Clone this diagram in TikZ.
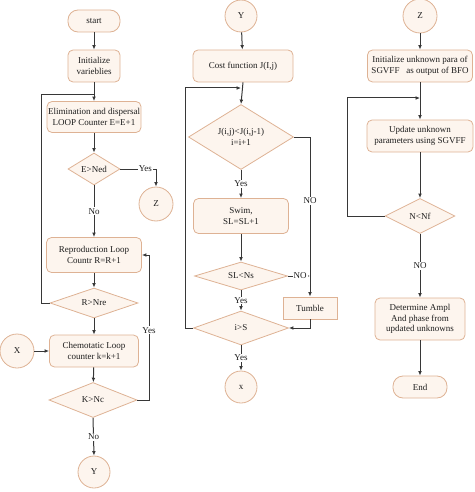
\documentclass[tikz,border=0pt]{standalone}
\usepackage{fontspec}
\setmainfont{Liberation Serif}
\usetikzlibrary{shapes.geometric,arrows.meta}
\definecolor{bord}{RGB}{222,178,148}
\definecolor{fillc}{RGB}{253,245,238}
\definecolor{linec}{RGB}{55,55,55}
\definecolor{txtc}{RGB}{30,30,30}
\begin{document}
\begin{tikzpicture}[x=1pt,y=-1pt,
  font=\fontsize{9}{10.5}\selectfont, text=txtc,
  base/.style={draw=bord, fill=fillc, line width=0.8pt, align=center, inner sep=1pt},
  box/.style={base, rounded corners=5pt},
  term/.style={base, rounded corners=10pt},
  plainbox/.style={base},
  dia/.style={base, shape=diamond, inner sep=0pt},
  circ/.style={base, shape=circle, inner sep=0pt},
  line/.style={draw=linec, line width=1pt},
  arr/.style={line, -{Latex[length=4.5pt,width=3.8pt]}},
  lab/.style={fill=white, inner sep=1pt, text=txtc}]
\useasboundingbox (0,0) rectangle (474,492);

% column 1
\node[term, minimum width=52pt, minimum height=22pt] (start) at (94,21) {start};
\node[box, minimum width=52pt, minimum height=32pt] (init) at (94,66) {Initialize\\varieblies};
\node[box, minimum width=93pt, minimum height=31pt] (elim) at (94,117) {Elimination and dispersal\\LOOP Counter E=E+1};
\node[dia, aspect=1.6, minimum width=52pt, minimum height=32pt] (ened) at (94,169) {E>Ned};
\node[circ, minimum size=34pt] (z1) at (156,204) {Z};
\node[box, minimum width=95pt, minimum height=35pt] (repro) at (94,255) {Reproduction Loop\\Countr R=R+1};
\node[dia, aspect=2.9, minimum width=88pt, minimum height=30pt] (rnre) at (94,303) {R>Nre};
\node[box, minimum width=89pt, minimum height=32pt] (chemo) at (94,351) {Chemotatic Loop\\counter k=k+1};
\node[circ, minimum size=34pt] (xa) at (17,351) {X};
\node[dia, aspect=2.5, minimum width=88pt, minimum height=35pt] (knc) at (93,400) {K>Nc};
\node[circ, minimum size=32pt] (ya) at (94,472) {Y};

\coordinate (l1) at (41,95);
\draw[arr] (start) -- (init);
\draw[arr] (init) -- (elim);
\draw[line] (rnre.west) -| (l1) -- (l1 -| elim.north);
\draw[arr] (elim) -- (ened);
\draw[arr] (ened.east) -| node[lab, pos=0.35] {Yes} (z1.north);
\draw[arr] (ened.south) -- node[lab] {No} (repro.north);
\draw[arr] (repro) -- (rnre);
\draw[arr] (rnre.south) -- (chemo.north);
\draw[arr] (xa) -- (chemo);
\draw[arr] (chemo) -- (knc);
\draw[arr] (knc.south) -- node[lab] {No} (ya.north);
\coordinate (r1) at (149,400);
\draw[arr] (knc.east) -- (r1) -- node[lab, pos=0.48] {Yes} (r1 |- repro.east) -- (repro.east);

% column 2
\node[circ, minimum size=32pt] (yb) at (241,16) {Y};
\node[box, minimum width=100pt, minimum height=32pt] (cost) at (243,66) {Cost function J(I,j)};
\node[dia, aspect=1.6, minimum width=105pt, minimum height=65pt] (jd) at (241,137) {J(i,j)<J(i,j-1)\\i=i+1};
\node[box, minimum width=95pt, minimum height=35pt] (swim) at (241,216) {Swim,\\SL=SL+1};
\node[dia, aspect=3.3, minimum width=93pt, minimum height=28pt] (slns) at (241,276) {SL<Ns};
\node[plainbox, minimum width=54pt, minimum height=22pt] (tumble) at (310,308) {Tumble};
\node[dia, aspect=2.8, minimum width=95pt, minimum height=34pt] (is) at (241,328) {i>S};
\node[circ, minimum size=32pt] (xb) at (241,387) {x};

\coordinate (l2) at (185,88);
\draw[arr] (yb) -- (cost);
\draw[arr] (cost.south) -- (jd.north);
\draw[arr] (is.west) -| (l2) -- (l2 -| jd.north);
\draw[arr] (jd.east) -| node[lab, pos=0.7] {NO} (tumble.north);
\draw[arr] (jd.south) -- node[lab] {Yes} (swim.north);
\draw[arr] (swim) -- (slns);
\draw[arr] (slns.east) -- node[lab, pos=0.55] {NO} (slns.east -| tumble.north);
\draw[arr] (slns.south) -- node[lab] {Yes} (is.north);
\draw[arr] (tumble.south) |- (is.east);
\draw[arr] (is.south) -- node[lab] {Yes} (xb.north);

% column 3
\node[circ, minimum size=34pt] (zb) at (420,16) {Z};
\node[box, minimum width=105pt, minimum height=32pt] (initu) at (420,66) {Initialize unknown para of\\SGVFF~~ as output of BFO};
\node[box, minimum width=106pt, minimum height=32pt] (update) at (420,136) {Update unknown\\parameters using SGVFF};
\node[dia, aspect=2, minimum width=70pt, minimum height=35pt] (nnf) at (420,216) {N<Nf};
\node[box, minimum width=90pt, minimum height=42pt] (det) at (420,319) {Determine Ampl\\And phase from\\updated unknowns};
\node[term, minimum width=54pt, minimum height=22pt] (endn) at (420,387) {End};

\coordinate (l3) at (347,98);
\draw[arr] (zb) -- (initu);
\draw[arr] (initu) -- (update);
\draw[arr] (nnf.west) -| (l3) -- (l3 -| update.north);
\draw[arr] (update) -- (nnf);
\draw[arr] (nnf.south) -- node[lab] {NO} (det.north);
\draw[arr] (det) -- (endn);
\end{tikzpicture}
\end{document}
